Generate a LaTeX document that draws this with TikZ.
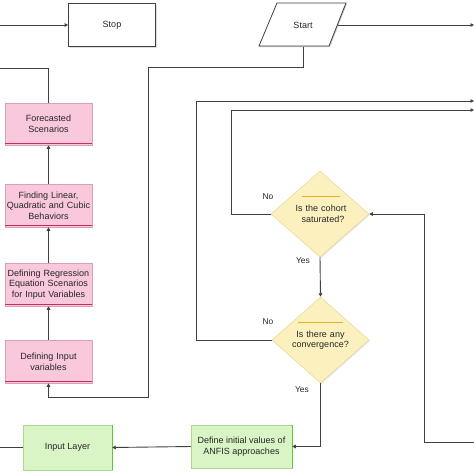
\documentclass[tikz,border=0pt]{standalone}
\usepackage{fontspec}
\setmainfont{Liberation Sans}
\usetikzlibrary{shapes.geometric,arrows.meta,shadows}
\definecolor{linec}{HTML}{404040}
\definecolor{pinkf}{HTML}{F9C8DD}
\definecolor{pinkd}{HTML}{D9A0B8}
\definecolor{redl}{HTML}{CC2A5A}
\definecolor{greenf}{HTML}{D9F5C5}
\definecolor{greend}{HTML}{A9D88F}
\definecolor{greenr}{HTML}{5CC832}
\definecolor{yelf}{HTML}{FCF1BE}
\definecolor{yeld}{HTML}{E6D890}
\definecolor{yell}{HTML}{E2B51C}
\tikzset{
  txt/.style={font=\fontsize{9}{10.6}\selectfont, align=center, text=black!85},
  conn/.style={draw=linec, line width=0.9pt},
  arr/.style={conn, -{Triangle[length=3.5pt,width=3.5pt]}},
  whitebox/.style={txt, draw=linec, line width=0.8pt, fill=white, minimum width=87pt, minimum height=43pt, inner sep=0pt, drop shadow={shadow xshift=1pt, shadow yshift=-1pt, opacity=0.25}},
  pinkbox/.style={txt, draw=pinkd, line width=0.5pt, fill=pinkf, minimum width=87pt, inner sep=0pt, text width=86pt, drop shadow={shadow xshift=1pt, shadow yshift=-1pt, opacity=0.25}},
  greenbox/.style={txt, draw=greend, line width=0.5pt, fill=greenf, inner sep=0pt, drop shadow={shadow xshift=1pt, shadow yshift=-1pt, opacity=0.25}},
  decision/.style={txt, diamond, draw=yeld, line width=0.5pt, fill=yelf, inner sep=0pt, text width=56pt, drop shadow={shadow xshift=1pt, shadow yshift=-1pt, opacity=0.2}},
  lbl/.style={font=\fontsize{8.4}{9}\selectfont, inner sep=0pt, text=black!85},
}
\begin{document}
\begin{tikzpicture}[x=1pt,y=-1pt]
\useasboundingbox[fill=white] (0,0) rectangle (474,474);
% Stop
\node[whitebox] (stop) at (112,25) {Stop};
% Start parallelogram
\fill[black,opacity=0.2] (278,4) -- (347,4) -- (330,47) -- (260,47) -- cycle;
\draw[fill=white, draw=linec, line width=0.8pt] (277,3) -- (346,3) -- (329,46) -- (259,46) -- cycle;
\node[txt, minimum width=70pt, minimum height=43pt, inner sep=0pt] (start) at (303,25) {Start};
% pink boxes
\node[pinkbox, minimum height=42pt] (fore) at (48.5,124) {Forecasted\\Scenarios};
\node[pinkbox, minimum height=43pt] (find) at (48.5,205.5) {Finding Linear,\\Quadratic and Cubic\\Behaviors};
\node[pinkbox, minimum height=43pt] (regr) at (48.5,284.5) {Defining Regression\\Equation Scenarios\\for Input Variables};
\node[pinkbox, minimum height=43pt] (inp) at (48.5,361.5) {Defining Input\\variables};
\foreach \n in {fore,find,regr,inp}{
  \draw[redl, line width=1.3pt] ([xshift=0.3pt,yshift=2pt]\n.south west) -- ([xshift=-0.3pt,yshift=2pt]\n.south east);
}
% green boxes
\node[greenbox, minimum width=89pt, minimum height=45pt] (ilayer) at (67.5,447.5) {Input Layer};
\node[greenbox, minimum width=101pt, minimum height=43pt] (def) at (241.5,446.5) {Define initial values of\\ANFIS approaches};
\draw[greenr, line width=1.4pt] (ilayer.north east) -- (ilayer.south east);
\draw[greenr, line width=1.4pt] (def.north east) -- (def.south east);
% decisions
\node[decision, minimum width=98pt, minimum height=86pt] (coh) at (320,214) {};
\node[txt, text width=62pt] at (321,214) {Is the cohort\\\hspace*{4pt}saturated?};
\draw[yell, line width=0.8pt] (302,196) -- (340,196);
\node[decision, minimum width=97pt, minimum height=86pt] (conv) at (320.5,340) {};
\node[txt, text width=62pt] at (320.5,340) {Is there any\\convergence?};
\draw[yell, line width=0.8pt] (298,322) -- (343,322);
% coordinates
\coordinate (lin) at (0,25);
\coordinate (rout1) at (474,25);
\coordinate (sdown) at (303,67);
\coordinate (lcol) at (148,67);
\coordinate (lbot) at (148,397);
\coordinate (lout) at (0,68);
\coordinate (r101) at (474,101);
\coordinate (c101) at (196,101);
\coordinate (r110) at (474,110);
\coordinate (c110) at (231,110);
\coordinate (r442) at (474,442);
\coordinate (c442) at (424,442);
\coordinate (lout2) at (0,447.5);
% connectors
\draw[arr] (lin) -- (stop.west);
\draw[arr] (start.east) -- (rout1);
\draw[arr] (start.south) -- (sdown) -- (lcol) -- (lbot) -| (inp.south);
\draw[conn] (fore.north) |- (lout);
\draw[arr] (inp.north) -- (regr.south);
\draw[arr] (regr.north) -- (find.south);
\draw[arr] (find.north) -- (fore.south);
\draw[arr] (conv.west) -| (c101) -- (r101);
\draw[arr] (coh.west) -| (c110) -- (r110);
\draw[arr] (r442) -- (c442) |- (coh.east);
\draw[arr] (coh.south) -- (conv.north);
\draw[arr] (conv.south) |- (def.east);
\draw[arr] (def.west) -- (ilayer.east);
\draw[conn] (ilayer.west) -- (lout2);
% labels
\node[lbl] (no1) at (268,197) {No};
\node[lbl] (yes1) at (303,261) {Yes};
\node[lbl] (no2) at (268,322) {No};
\node[lbl] (yes2) at (302,390) {Yes};
\end{tikzpicture}
\end{document}
